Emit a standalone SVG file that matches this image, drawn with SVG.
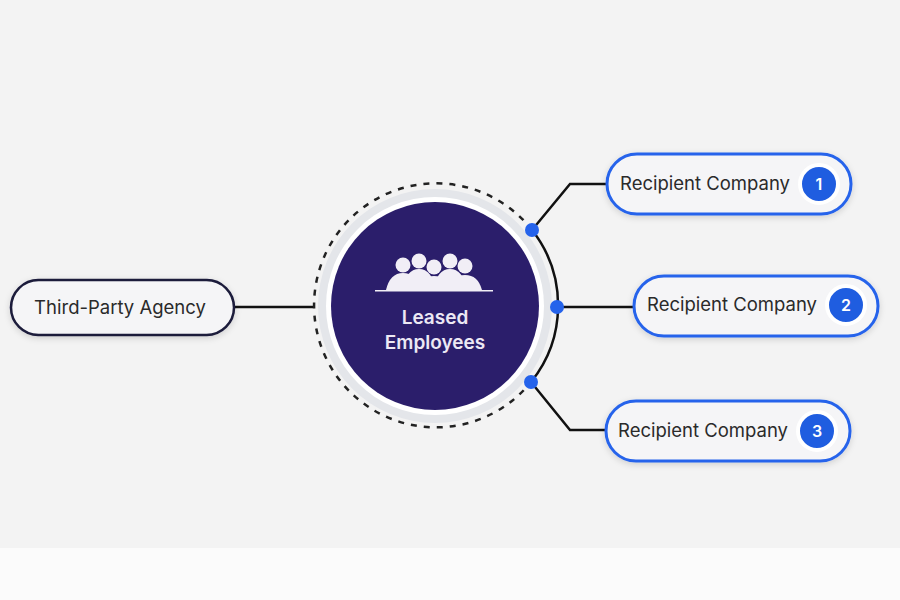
<svg xmlns="http://www.w3.org/2000/svg" width="900" height="600" viewBox="0 0 900 600">
<defs>
<style>
.pill{fill:#f5f5f7;stroke:#2563eb;stroke-width:3}
.lbl{font-family:"Inter","Liberation Sans",sans-serif;font-size:18.5px;fill:#2a2a2a}
.badge{fill:#1f5de0;stroke:#fff;stroke-width:4}
.num{font-family:"Inter","Liberation Sans",sans-serif;font-size:16px;fill:#fff;font-weight:600}
.line{stroke:#111;stroke-width:2.5;fill:none}
.dot{fill:#2563eb}
</style>
<filter id="sh" x="-20%" y="-20%" width="140%" height="140%"><feDropShadow dx="0" dy="2" stdDeviation="3" flood-color="#000" flood-opacity="0.15"/></filter>
</defs>
<rect width="900" height="600" fill="#f3f3f3"/>
<rect y="548" width="900" height="52" fill="#fbfbfb"/>
<g id="connectors">
<path class="line" d="M234 307H313"/>
<path class="line" d="M532 230L570 184H607"/>
<path class="line" d="M557 307H634"/>
<path class="line" d="M531 382L570 430H605"/>
</g>
<g id="center">
<path d="M532 230A122 122 0 1 0 531 382" fill="none" stroke="#222" stroke-width="2.5" stroke-dasharray="6 7"/>
<circle cx="435" cy="306" r="117" fill="#e4e6ea"/>
<circle cx="435" cy="306" r="109" fill="#fff"/>
<circle cx="435" cy="306" r="104" fill="#2b1e6b"/>
<path class="line" d="M532 230A122 122 0 0 1 531 382"/>
<g fill="#f1eef6">
<circle cx="403" cy="265" r="7.5"/><circle cx="419" cy="261" r="7.5"/><circle cx="434" cy="267" r="7.5"/><circle cx="450" cy="261" r="7.5"/><circle cx="465" cy="266" r="7.5"/>
<path d="M386 290Q390 273 403 273Q416 273 420 290Z"/>
<path d="M402 290Q406 269 419 269Q432 269 436 290Z"/>
<path d="M417 290Q421 276 434 276Q447 276 451 290Z"/>
<path d="M433 290Q437 269 450 269Q463 269 467 290Z"/>
<path d="M448 290Q452 275 465 275Q478 275 482 290Z"/>
<rect x="375" y="290" width="118" height="1.5"/>
</g>
<text x="435" y="324" text-anchor="middle" font-family="Inter,'Liberation Sans',sans-serif" font-size="19" font-weight="600" fill="#ece8f4">Leased</text>
<text x="435" y="349" text-anchor="middle" font-family="Inter,'Liberation Sans',sans-serif" font-size="19" font-weight="600" fill="#ece8f4">Employees</text>
<circle class="dot" cx="532" cy="230" r="7"/>
<circle class="dot" cx="557" cy="307" r="7"/>
<circle class="dot" cx="531" cy="382" r="7"/>
</g>
<g id="agency">
<rect x="11" y="280" width="223" height="55" rx="27.5" fill="#f5f5f7" stroke="#1a1a3a" stroke-width="2.5" filter="url(#sh)"/>
<text class="lbl" x="120" y="314" text-anchor="middle">Third-Party Agency</text>
</g>
<g id="r1">
<rect class="pill" x="607" y="154" width="244" height="60" rx="30" filter="url(#sh)"/>
<text class="lbl" x="620" y="190">Recipient Company</text>
<circle class="badge" cx="819" cy="184" r="19"/><text class="num" x="819" y="190" text-anchor="middle">1</text>
</g>
<g id="r2">
<rect class="pill" x="634" y="276" width="244" height="60" rx="30" filter="url(#sh)"/>
<text class="lbl" x="647" y="311">Recipient Company</text>
<circle class="badge" cx="846" cy="305" r="19"/><text class="num" x="846" y="311" text-anchor="middle">2</text>
</g>
<g id="r3">
<rect class="pill" x="606" y="401" width="244" height="60" rx="30" filter="url(#sh)"/>
<text class="lbl" x="618" y="437">Recipient Company</text>
<circle class="badge" cx="817" cy="431" r="19"/><text class="num" x="817" y="437" text-anchor="middle">3</text>
</g>
</svg>
